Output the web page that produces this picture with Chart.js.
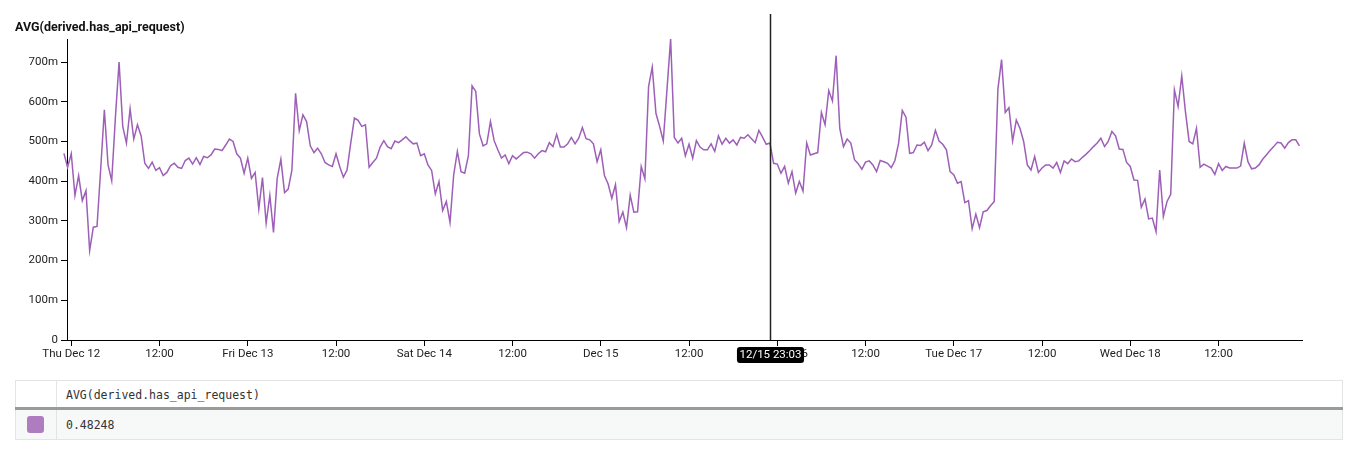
<!DOCTYPE html>
<html>
<head>
<meta charset="utf-8">
<script src="https://cdn.jsdelivr.net/npm/chart.js@4.4.1/dist/chart.umd.min.js"></script>
<style>
  body { margin: 0; background: #fff; }
  #wrap { position: relative; width: 1358px; height: 449px; font-family: Roboto, sans-serif; }
  #title { position: absolute; left: 15px; top: 19px; font: bold 12.5px/15px Roboto, sans-serif; color: #111; }
  #chart { position: absolute; left: 0; top: 0; }
  .legend { position: absolute; left: 15px; width: 1328px; box-sizing: border-box; border: 1px solid #e4e4e4;
            font: 11.5px 'DejaVu Sans Mono', monospace; color: #333; }
  .legend .key { position: absolute; left: 0; top: 0; bottom: 0; width: 40px; border-right: 1px solid #e4e4e4; }
  .legend .txt { position: absolute; left: 50px; top: 0; bottom: 0; display: flex; align-items: center; }
  #head { top: 380px; height: 28px; border-bottom: none; }
  #sep { position: absolute; left: 15px; top: 407px; width: 1328px; height: 3px; background: #9a9a9a; }
  #row { top: 410px; height: 30px; background: #f7f8f8; border-top: none; }
  .swatch { position: absolute; left: 11px; top: 6px; width: 17px; height: 17px; border-radius: 3px; background: #b07cc0; }
</style>
</head>
<body>
<div id="wrap">
  <canvas id="chart" width="1358" height="372"></canvas>
  <div id="title">AVG(derived.has_api_request)</div>
  <div class="legend" id="head"><div class="key"></div><div class="txt">AVG(derived.has_api_request)</div></div>
  <div id="sep"></div>
  <div class="legend" id="row"><div class="key"><div class="swatch"></div></div><div class="txt">0.48248</div></div>
</div>
<script>
// half-hour buckets, first one at Dec 11 23:00 (hours relative to Thu Dec 12 00:00)
const START_HOUR = -1;
const STEP_HOURS = 0.5;

// AVG(derived.has_api_request), in milli-units
const avgValues = [
  470, 435, 469, 364, 414, 351, 376, 225, 284, 286, 430, 580, 441, 401, 560, 700,
  538, 496, 582, 506, 542, 514, 445, 432, 448, 427, 434, 414, 422, 439, 445, 435,
  432, 452, 458, 443, 459, 442, 462, 459, 466, 481, 480, 477, 491, 506, 500, 469,
  458, 420, 458, 407, 422, 330, 409, 294, 364, 271, 407, 455, 371, 380, 428, 621,
  527, 567, 550, 489, 472, 483, 469, 447, 441, 437, 469, 437, 410, 428, 496, 559,
  553, 538, 542, 435, 447, 458, 486, 502, 487, 482, 501, 497, 504, 512, 502, 494,
  496, 464, 469, 441, 427, 368, 399, 326, 349, 296, 416, 475, 424, 420, 464, 640,
  626, 519, 489, 494, 550, 502, 479, 458, 466, 444, 464, 456, 464, 472, 473, 469,
  458, 469, 477, 474, 497, 487, 518, 486, 486, 494, 510, 494, 508, 535, 507, 504,
  494, 449, 479, 414, 393, 357, 391, 298, 322, 283, 365, 322, 323, 437, 406, 638,
  687, 571, 538, 501, 630, 758, 510, 496, 508, 464, 493, 458, 502, 486, 479, 479,
  494, 475, 514, 493, 508, 496, 504, 491, 510, 508, 517, 507, 497, 528, 511, 493,
  496, 445, 443, 420, 437, 395, 424, 370, 399, 375, 496, 466, 469, 472, 573, 542,
  628, 602, 716, 533, 487, 506, 496, 454, 444, 430, 448, 451, 441, 424, 452, 449,
  445, 434, 452, 496, 578, 561, 470, 472, 491, 490, 498, 477, 491, 528, 501, 493,
  479, 424, 416, 395, 399, 346, 351, 280, 317, 283, 323, 326, 338, 349, 632, 706,
  573, 585, 501, 554, 533, 500, 441, 428, 462, 422, 433, 441, 441, 433, 447, 422,
  451, 444, 456, 449, 451, 460, 468, 477, 487, 496, 508, 487, 500, 525, 514, 481,
  480, 447, 437, 403, 402, 334, 355, 305, 307, 273, 428, 311, 349, 367, 630, 588,
  665, 575, 500, 494, 533, 435, 443, 438, 433, 417, 444, 427, 437, 433, 433, 433,
  438, 496, 449, 431, 433, 441, 455, 466, 477, 487, 498, 496, 483, 497, 504, 504,
  489
];

const xTickHours = [0, 12, 24, 36, 48, 60, 72, 84, 96, 108, 120, 132, 144, 156];
const xTickLabels = ['Thu Dec 12', '12:00', 'Fri Dec 13', '12:00', 'Sat Dec 14', '12:00', 'Dec 15',
  '12:00', 'Mon Dec 16', '12:00', 'Tue Dec 17', '12:00', 'Wed Dec 18', '12:00'];
const yTicks = [0, 100, 200, 300, 400, 500, 600, 700];

const cursorHour = 95.05;
const cursorLabel = '12/15 23:03';

const LINE_COLOR = '#9d5fb7';
const AXIS_COLOR = '#000';
const TEXT_COLOR = '#222';

const cursorPlugin = {
  id: 'cursor',
  afterDraw(chart) {
    const { ctx, chartArea, scales } = chart;
    const x = Math.round(scales.x.getPixelForValue(cursorHour)) + 0.5;
    ctx.save();
    ctx.strokeStyle = '#222';
    ctx.lineWidth = 1.5;
    ctx.beginPath();
    ctx.moveTo(x, 14);
    ctx.lineTo(x, chartArea.bottom);
    ctx.stroke();

    ctx.font = '11.5px Roboto';
    const w = ctx.measureText(cursorLabel).width + 5;
    const h = 16;
    const top = chartArea.bottom + 7;
    ctx.fillStyle = '#000';
    ctx.beginPath();
    ctx.roundRect(x - w / 2, top, w, h, 3);
    ctx.fill();
    ctx.fillStyle = '#fff';
    ctx.textAlign = 'center';
    ctx.textBaseline = 'middle';
    ctx.fillText(cursorLabel, x, top + h / 2 + 0.5);
    ctx.restore();
  }
};

new Chart(document.getElementById('chart'), {
  type: 'line',
  data: {
    datasets: [{
      label: 'AVG(derived.has_api_request)',
      data: avgValues.map((v, i) => ({ x: START_HOUR + i * STEP_HOURS, y: v })),
      borderColor: LINE_COLOR,
      borderWidth: 1.5,
      pointRadius: 0,
      tension: 0,
      fill: false,
      clip: false
    }]
  },
  options: {
    responsive: false,
    animation: false,
    devicePixelRatio: 1,
    layout: { padding: { top: 39, right: 56, left: 0, bottom: 0 } },
    plugins: { legend: { display: false }, tooltip: { enabled: false }, title: { display: false } },
    scales: {
      x: {
        type: 'linear',
        min: -0.58,
        max: 167.35,
        afterBuildTicks: s => { s.ticks = xTickHours.map(v => ({ value: v })); },
        afterFit: s => { s.height = 32; },
        ticks: {
          autoSkip: false,
          maxRotation: 0,
          padding: 1,
          color: TEXT_COLOR,
          font: { family: 'Roboto', size: 11.5 },
          callback: (v, i) => xTickLabels[i]
        },
        grid: { drawOnChartArea: false, drawTicks: true, tickLength: 6, color: AXIS_COLOR },
        border: { display: true, color: AXIS_COLOR, width: 1 }
      },
      y: {
        min: 0,
        max: 758,
        afterBuildTicks: s => { s.ticks = yTicks.map(v => ({ value: v })); },
        afterFit: s => { s.width = 67; },
        ticks: {
          padding: 3,
          color: TEXT_COLOR,
          font: { family: 'Roboto', size: 11.5 },
          callback: v => (v === 0 ? '0' : v + 'm')
        },
        grid: { drawOnChartArea: false, drawTicks: true, tickLength: 6, color: AXIS_COLOR },
        border: { display: true, color: AXIS_COLOR, width: 1 }
      }
    }
  },
  plugins: [cursorPlugin]
});
</script>
</body>
</html>
